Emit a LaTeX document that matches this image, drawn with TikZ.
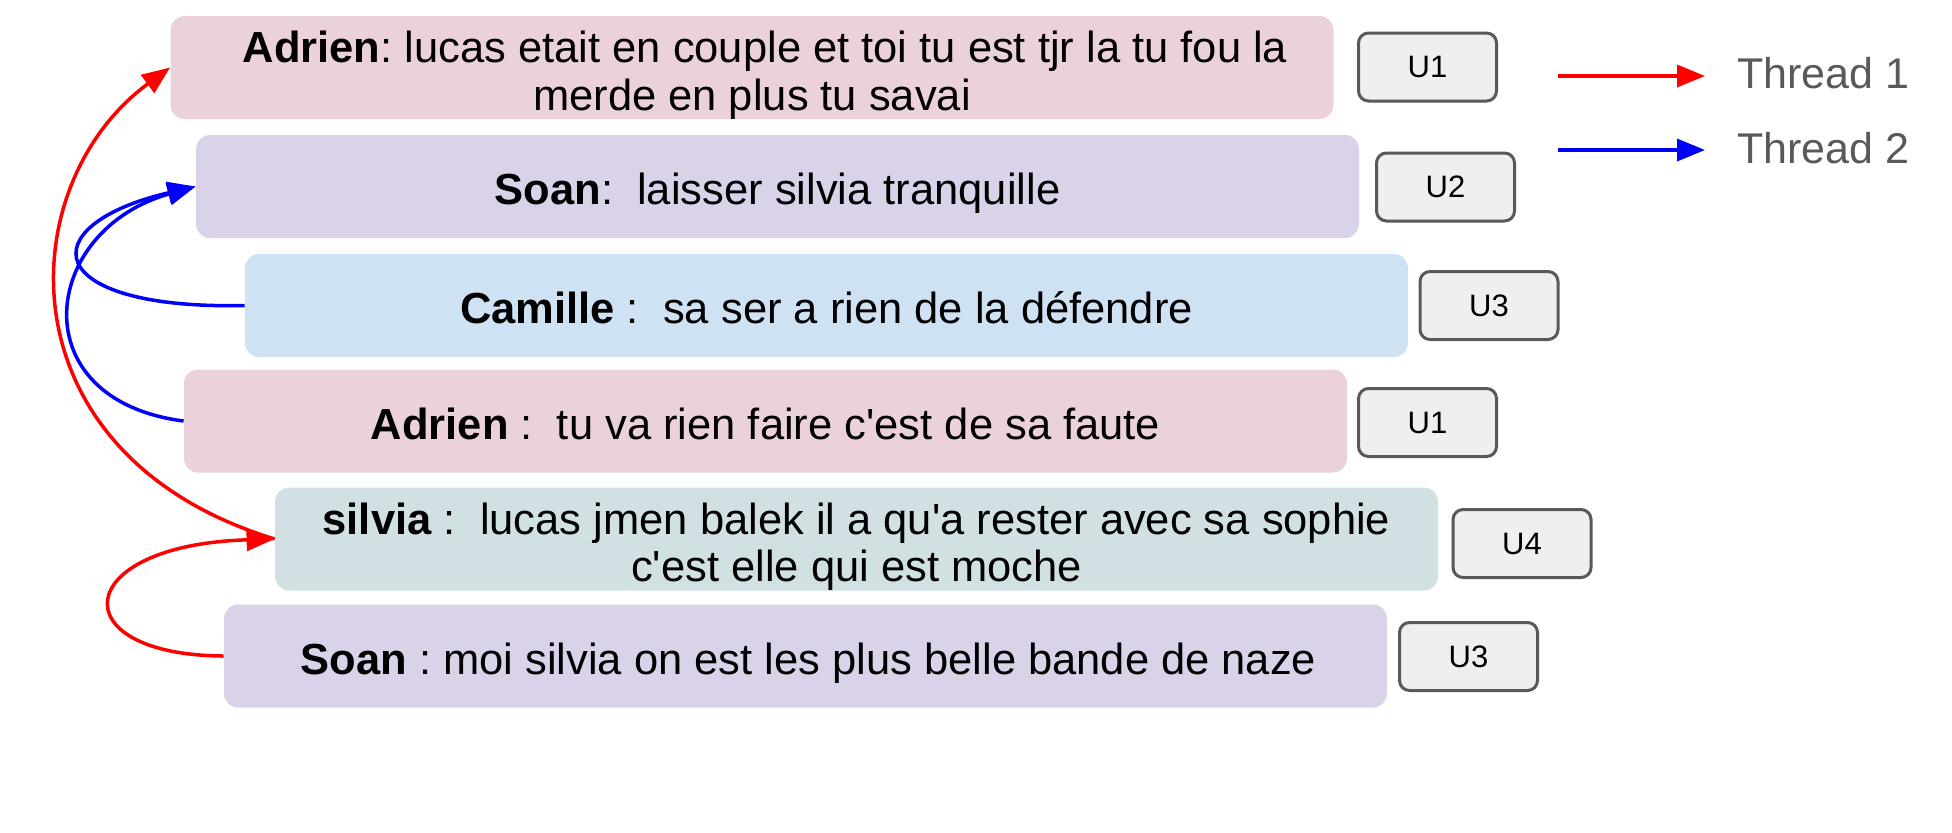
\documentclass[tikz,border=0pt]{standalone}
\usepackage{fontspec}
\setmainfont{Liberation Sans}
\usetikzlibrary{arrows.meta}
\definecolor{pinkbox}{HTML}{EAD1DC}
\definecolor{purplebox}{HTML}{D9D2E9}
\definecolor{bluebox}{HTML}{CFE2F3}
\definecolor{cyanbox}{HTML}{D0E0E3}
\definecolor{ufill}{HTML}{EFEFEF}
\definecolor{ugray}{HTML}{595959}
\definecolor{legendgray}{HTML}{595959}
\definecolor{threadred}{HTML}{FF0000}
\definecolor{threadblue}{HTML}{0000FF}
\frenchspacing
\begin{document}
\begin{tikzpicture}[x=0.5pt,y=-0.5pt,
  msg/.style={rounded corners=7pt, minimum width=581.5pt, minimum height=51.5pt,
    inner sep=0pt, text height=18pt, text depth=0pt,
    font=\fontsize{21.75}{23.75}\selectfont},
  msgtwo/.style={msg, text height=0pt, text depth=5pt},
  ubox/.style={draw=ugray, line width=1.5pt, fill=ufill, rounded corners=5pt,
    minimum width=69pt, minimum height=34pt, inner sep=0pt,
    font=\fontsize{15.5}{18}\selectfont},
  conn/.style={line width=1.75pt, -{Triangle[length=14pt,width=11pt]}},
  legendtext/.style={anchor=base west, inner sep=0pt, text=legendgray,
    font=\fontsize{21.5}{25}\selectfont}]
\useasboundingbox (0,0) rectangle (1952,832);

% message boxes
\node[msgtwo, fill=pinkbox] (b1) at (752,67.5)
  {\begin{tabular}[t]{@{}c@{}}\hspace*{13pt}\textbf{Adrien}: lucas etait en couple et toi tu est tjr la tu fou la\\merde en plus tu savai\end{tabular}};
\node[msg, fill=purplebox] (b2) at (777.5,186.5)
  {\textbf{Soan}:\ \ laisser silvia tranquille};
\node[msg, fill=bluebox] (b3) at (826.5,305.5)
  {\textbf{Camille} :\ \ sa ser a rien de la défendre};
\node[msg, fill=pinkbox] (b4) at (765.5,421)
  {\textbf{Adrien} :\ \ tu va rien faire c\textquotesingle est de sa faute};
\node[msgtwo, fill=cyanbox] (b5) at (856.5,539)
  {\begin{tabular}[t]{@{}c@{}}\textbf{silvia} :\ \ lucas jmen balek il a qu\textquotesingle a rester avec sa sophie\\c\textquotesingle est elle qui est moche\end{tabular}};
\node[msg, fill=purplebox] (b6) at (805.5,656)
  {\hspace*{3pt}\textbf{Soan} : moi silvia on est les plus belle bande de naze};

% user boxes
\node[ubox] (u1a) at (1427.5,67) {U1};
\node[ubox] (u2) at (1445.5,187) {U2};
\node[ubox] (u3a) at (1489,305.5) {U3};
\node[ubox] (u1b) at (1427.5,422.5) {U1};
\node[ubox] (u4) at (1522,543.5) {U4};
\node[ubox] (u3b) at (1468.5,656.5) {U3};

% thread connectors
\draw[conn, threadred] (b5.west) .. controls (0,455) and (10,185) .. (b1.west);
\draw[conn, threadred] (b6.west) .. controls (60,655) and (70,545) .. (b5.west);
\draw[conn, threadblue] (b3.west) .. controls (40,310) and (30,225) .. (b2.west);
\draw[conn, threadblue] (b4.west) .. controls (20,400) and (40,230) .. (b2.west);

% legend
\coordinate (r1s) at (1558,76);
\coordinate (r1e) at (1705,76);
\coordinate (r2s) at (1558,150);
\coordinate (r2e) at (1705,150);
\draw[conn, threadred] (r1s) -- (r1e);
\draw[conn, threadblue] (r2s) -- (r2e);
\node[legendtext] (th1) at (1737,88) {Thread 1};
\node[legendtext] (th2) at (1737,163) {Thread 2};
\end{tikzpicture}
\end{document}
